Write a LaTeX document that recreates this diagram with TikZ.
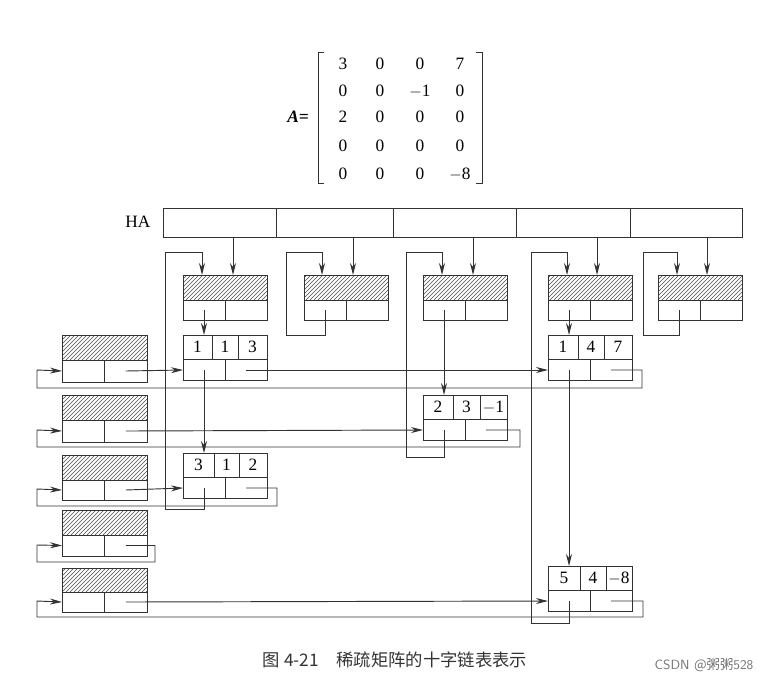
\documentclass[tikz,border=0pt]{standalone}
\usepackage{fontspec}
\setmainfont{Liberation Serif}
\newfontfamily\cjk{Noto Sans CJK SC}
\usetikzlibrary{patterns,arrows.meta}
\tikzset{ln/.style={line width=0.7pt,black!80},
 ar/.style={ln,-{Stealth[length=9pt,width=4.5pt]}},
 num/.style={font=\fontsize{13}{13}\selectfont,inner sep=0pt}}
\newcommand\headcell[6]{%
 \fill[pattern=north east lines,pattern color=black!70] (#1,#2) rectangle ++(#5,#3-#2);
 \draw[ln] (#1,#2) rectangle ++(#5,#4-#2);
 \draw[ln] (#1,#3) -- ++(#5,0);
 \draw[ln] (#1+#5/2,#3) -- (#1+#5/2,#4);
 \coordinate (#6-l) at (#1+#5/4,{(#3+#4)/2});
 \coordinate (#6-r) at (#1+3*#5/4,{(#3+#4)/2});
 \coordinate (#6-W) at (#1,{(#3+#4)/2});
 \coordinate (#6-R) at (#1+#5,{(#3+#4)/2});}
\newcommand\elemcell[8]{%
 \draw[ln] (#1,#2) rectangle ++(84,45);
 \draw[ln] (#1,#2+24) -- ++(84,0);
 \draw[ln] (#3,#2) -- ++(0,24);
 \draw[ln] (#4,#2) -- ++(0,24);
 \draw[ln] (#1+42,#2+24) -- ++(0,21);
 \node[num] at ({(#1+#3)/2},#2+12) {#6};
 \node[num] at ({(#3+#4)/2},#2+12) {#7};
 \node[num] at ({(#4+#1+84)/2},#2+12) {#8};
 \coordinate (#5-T) at (#1+21,#2);
 \coordinate (#5-l) at (#1+21,#2+35);
 \coordinate (#5-r) at (#1+63,#2+35);
 \coordinate (#5-W) at (#1,#2+35);
 \coordinate (#5-R) at (#1+84,#2+35);}
\begin{document}
\begin{tikzpicture}[x=0.75pt,y=-0.75pt]
\useasboundingbox (0,0) rectangle (766,682);
\node[font=\bfseries\itshape\fontsize{13}{13}\selectfont] (A) at (298,117) {A=};
\draw[ln] (324,52) -- (318,52) -- (318,183) -- (324,183);
\draw[ln] (476,52) -- (482,52) -- (482,183) -- (476,183);
\foreach \r/\a/\b/\c/\d [count=\i] in {64/3/0/0/7,91/0/0/$-$1/0,117/2/0/0/0,146/0/0/0/0,174/0/0/0/$-$8}{
 \node[num] at (343,\r) {\a}; \node[num] at (380,\r) {\b};
 \node[num] at (420,\r) {\c}; \node[num] at (460,\r) {\d};}
\node[font=\fontsize{13}{13}\selectfont] (HA) at (138,222) {HA};
\draw[ln] (163,208) rectangle (742,237);
\foreach \x in {276,393,516,630} \draw[ln] (\x,208) -- (\x,237);
\headcell{183}{275}{300}{320}{84}{c1}
\headcell{304}{275}{300}{320}{84}{c2}
\headcell{423}{275}{300}{320}{84}{c3}
\headcell{548}{275}{300}{320}{84}{c4}
\headcell{658}{275}{300}{320}{84}{c5}
\foreach \x in {233,353,473,597,707} \draw[ar] (\x,237) -- (\x,275);
\headcell{62}{335}{360}{382}{85}{r1}
\headcell{62}{395}{420}{442}{85}{r2}
\headcell{62}{455}{480}{500}{85}{r3}
\headcell{62}{510}{535}{556}{85}{r4}
\headcell{62}{568}{592}{612}{85}{r5}
\elemcell{183}{335}{212}{238}{e1}{1}{1}{3}
\elemcell{548}{335}{578}{604}{e2}{1}{4}{7}
\elemcell{423}{395}{453}{480}{e3}{2}{3}{$-$1}
\elemcell{183}{453}{214}{239}{e4}{3}{1}{2}
\elemcell{548}{566}{580}{606}{e5}{5}{4}{$-$8}
\draw[ar] (c1-l) -- (e1-T);
\draw[ar] (e1-l) -- (e4-T);
\draw[ar] (e4-l) -- ++(0,21) -| (165,252) -| (202,275);
\draw[ar] (c2-l) -- ++(0,25) -| (286,252) -| (322,275);
\draw[ar] (c3-l) -- (e3-T);
\draw[ar] (e3-l) -- ++(0,27) -| (406,252) -| (442,275);
\draw[ar] (c4-l) -- (e2-T);
\draw[ar] (e2-l) -- (e5-T);
\draw[ar] (e5-l) -- ++(0,22) -| (531,252) -| (567,275);
\draw[ar] (c5-l) -- ++(0,25) -| (643,252) -| (677,275);
\draw[ar] (r1-r) -- (e1-W);
\draw[ar] (e1-r) -- (e2-W);
\draw[ar] (e2-r) -| (642,388) -| (37,370) -- (r1-W);
\draw[ar] (r2-r) -- (e3-W);
\draw[ar] (e3-r) -| (520,447) -| (37,430) -- (r2-W);
\draw[ar] (r3-r) -- (e4-W);
\draw[ar] (e4-r) -| (277,506) -| (37,489) -- (r3-W);
\draw[ar] (r4-r) -| (155,562) -| (37,545) -- (r4-W);
\draw[ar] (r5-r) -- (e5-W);
\draw[ar] (e5-r) -| (643,617) -| (37,601) -- (r5-W);
\node[font=\cjk\fontsize{13}{13}\selectfont,text=black!80] (cap) at (395,660) {图 4-21\quad 稀疏矩阵的十字链表表示};
\node[font=\sffamily\fontsize{10}{10}\selectfont,text=black!55] (wm) at (704,665) {CSDN {\cjk @粥粥}528};
\end{tikzpicture}
\end{document}
